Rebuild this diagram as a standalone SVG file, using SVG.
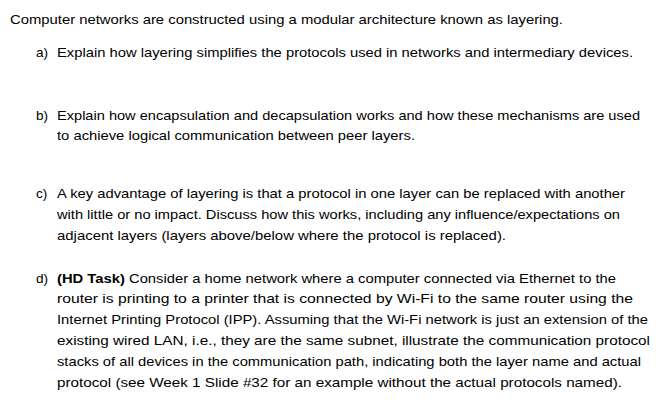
<svg xmlns="http://www.w3.org/2000/svg" width="672" height="406" viewBox="0 0 672 406">
<style>
text{font-family:"Liberation Sans","Open Sans",sans-serif;font-size:13.6px;fill:#000}
.b{font-weight:bold}
</style>
<rect width="672" height="406" fill="#fff"/>
<text x="10" y="24" textLength="553" lengthAdjust="spacingAndGlyphs">Computer networks are constructed using a modular architecture known as layering.</text>
<g id="qa">
<text x="36" y="57">a)</text>
<text x="57" y="57" textLength="576" lengthAdjust="spacingAndGlyphs">Explain how layering simplifies the protocols used in networks and intermediary devices.</text>
</g>
<g id="qb">
<text x="36" y="120">b)</text>
<text x="57" y="120" textLength="583" lengthAdjust="spacingAndGlyphs">Explain how encapsulation and decapsulation works and how these mechanisms are used</text>
<text x="57" y="140" textLength="358" lengthAdjust="spacingAndGlyphs">to achieve logical communication between peer layers.</text>
</g>
<g id="qc">
<text x="36" y="198">c)</text>
<text x="57" y="198" textLength="568" lengthAdjust="spacingAndGlyphs">A key advantage of layering is that a protocol in one layer can be replaced with another</text>
<text x="57" y="219" textLength="563" lengthAdjust="spacingAndGlyphs">with little or no impact.  Discuss how this works, including any influence/expectations on</text>
<text x="57" y="240" textLength="449" lengthAdjust="spacingAndGlyphs">adjacent layers (layers above/below where the protocol is replaced).</text>
</g>
<g id="qd">
<text x="36" y="283">d)</text>
<text x="57" y="283" textLength="559" lengthAdjust="spacingAndGlyphs"><tspan class="b">(HD Task)</tspan> Consider a home network where a computer connected via Ethernet to the</text>
<text x="57" y="303" textLength="576" lengthAdjust="spacingAndGlyphs">router is printing to a printer that is connected by Wi-Fi to the same router using the</text>
<text x="57" y="324" textLength="591" lengthAdjust="spacingAndGlyphs">Internet Printing Protocol (IPP).  Assuming that the Wi-Fi network is just an extension of the</text>
<text x="57" y="345" textLength="593" lengthAdjust="spacingAndGlyphs">existing wired LAN, i.e., they are the same subnet, illustrate the communication protocol</text>
<text x="57" y="366" textLength="584" lengthAdjust="spacingAndGlyphs">stacks of all devices in the communication path, indicating both the layer name and actual</text>
<text x="57" y="387" textLength="565" lengthAdjust="spacingAndGlyphs">protocol (see Week 1 Slide #32 for an example without the actual protocols named).</text>
</g>
</svg>
